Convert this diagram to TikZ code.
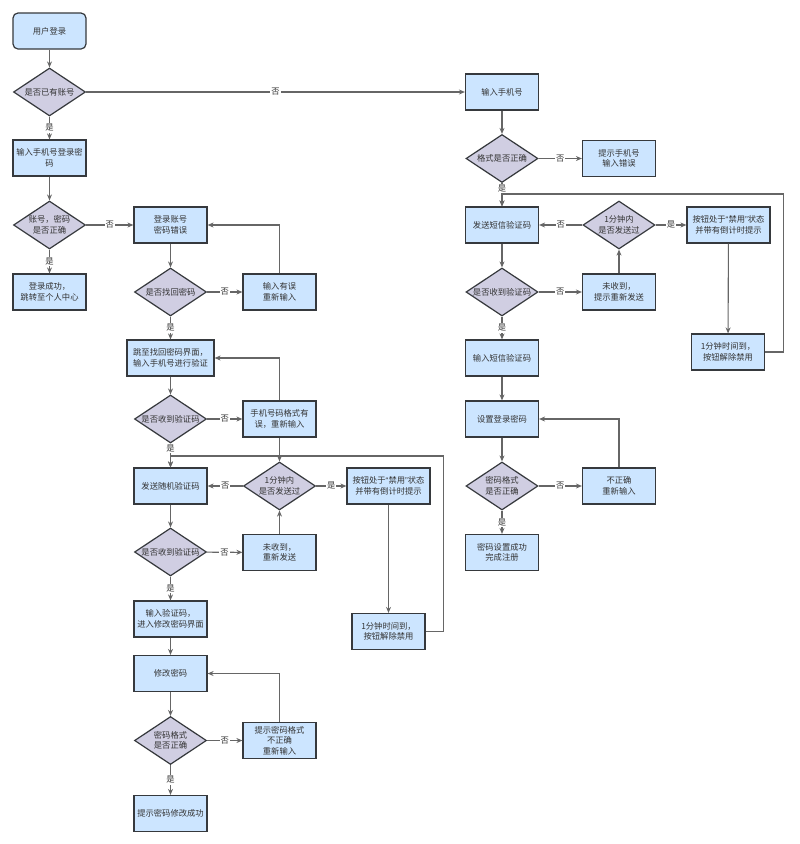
\documentclass[tikz,border=0pt]{standalone}
\usepackage{fontspec}
\setmainfont{Noto Sans CJK SC}
\newfontfamily\quotefont{Liberation Sans}
\usetikzlibrary{shapes.geometric, arrows.meta, positioning}

\definecolor{boxblue}{HTML}{CCE5FF}
\definecolor{decpurple}{HTML}{D0CEE2}
\definecolor{edgegray}{HTML}{36393D}
\definecolor{linegray}{HTML}{666666}
\definecolor{textgray}{HTML}{333333}

% narrow quotes round a word
\newcommand{\qword}[1]{{\quotefont “}#1{\quotefont ”}}

\begin{document}
\begin{tikzpicture}[
    x=1pt, y=-1pt,
    % Start style
    startbox/.style={
        rectangle,
        rounded corners=5pt,
        draw=edgegray,
        fill=boxblue,
        line width=1.2pt,
        minimum width=73pt,
        minimum height=36pt,
        text=textgray,
        font=\fontsize{8.3}{10.5}\selectfont,
        align=center
    },
    % Process style
    processbox/.style={
        rectangle,
        draw=edgegray,
        fill=boxblue,
        line width=1.2pt,
        minimum width=73pt,
        minimum height=36pt,
        inner sep=2pt,
        text=textgray,
        font=\fontsize{8.3}{10.5}\selectfont,
        align=center
    },
    % Decision style
    decisionbox/.style={
        diamond,
        aspect=1.5,
        draw=edgegray,
        fill=decpurple,
        line width=1.2pt,
        minimum width=72pt,
        minimum height=48pt,
        inner sep=0pt,
        text=textgray,
        font=\fontsize{8.3}{10.5}\selectfont,
        align=center
    },
    arrow/.style={
        -{Stealth[length=6pt,width=5pt]},
        line width=1.1pt,
        linegray
    },
    edgelabel/.style={
        fill=white,
        inner sep=1pt,
        text=textgray,
        font=\fontsize{8.3}{10}\selectfont
    }
]

\fill[white] (0,0) rectangle (800,844);

% === Login column ===
\node[startbox] (start) at (49.5, 31) {用户登录};
\node[decisionbox] (hasacc) at (49.5, 92) {是否已有账号};
\node[processbox] (loginin) at (49.5, 158) {输入手机号登录密\\码};
\node[decisionbox] (loginok) at (49.5, 225) {账号，密码\\是否正确};
\node[processbox] (loginsucc) at (49.5, 292) {登录成功，\\跳转至个人中心};

\draw[arrow] (start) -- (hasacc);
\draw[arrow] (hasacc) -- node[edgelabel] {是} (loginin);
\draw[arrow] (loginin) -- (loginok);
\draw[arrow] (loginok) -- node[edgelabel] {是} (loginsucc);

% === Find password column ===
\node[processbox] (loginerr) at (170.5, 225) {登录账号\\密码错误};
\node[decisionbox] (findpw) at (170.5, 292) {是否找回密码};
\node[processbox] (inputerr) at (279.5, 292) {输入有误\\重新输入};
\node[processbox, minimum width=87pt] (findpage) at (170.5, 358) {跳至找回密码界面，\\输入手机号进行验证};
\node[decisionbox] (rcv1) at (170.5, 419) {是否收到验证码};
\node[processbox] (phoneerr) at (279.5, 419) {手机号码格式有\\误，重新输入};
\node[processbox] (send1) at (170.5, 486) {发送随机验证码};
\node[decisionbox] (once1) at (279.5, 486) {1分钟内\\是否发送过};
\node[processbox, minimum width=83pt] (lock1) at (388.5, 486) {按钮处于\qword{禁用}状态\\并带有倒计时提示};
\node[processbox] (unlock1) at (388.5, 631.5) {1分钟时间到，\\按钮解除禁用};
\node[decisionbox] (rcv2) at (170.5, 552) {是否收到验证码};
\node[processbox] (resend1) at (279.5, 552.5) {未收到，\\重新发送};
\node[processbox] (inputcode) at (170.5, 619) {输入验证码，\\进入修改密码界面};
\node[processbox] (modpw) at (170.5, 673.5) {修改密码};
\node[decisionbox] (pwfmt1) at (170.5, 740.5) {密码格式\\是否正确};
\node[processbox] (pwfmterr) at (279.5, 740.5) {提示密码格式\\不正确\\重新输入};
\node[processbox] (modok) at (170.5, 813.5) {提示密码修改成功};

\coordinate (join1) at (170.5, 456);

\draw[arrow] (loginok) -- node[edgelabel] {否} (loginerr);
\draw[arrow] (loginerr) -- (findpw);
\draw[arrow] (findpw) -- node[edgelabel] {否} (inputerr);
\draw[arrow] (inputerr.north) |- (loginerr.east);
\draw[arrow] (findpw) -- node[edgelabel] {是} (findpage);
\draw[arrow] (findpage) -- (rcv1);
\draw[arrow] (rcv1) -- node[edgelabel] {否} (phoneerr);
\draw[arrow] (phoneerr.north) |- (findpage.east);
\draw[arrow] (phoneerr) -- (once1);
\draw[arrow] (rcv1) -- node[edgelabel, pos=0.22] {是} (send1);
\draw[arrow] (once1) -- node[edgelabel] {否} (send1);
\draw[arrow] (once1) -- node[edgelabel] {是} (lock1);
\draw[arrow] (lock1) -- (unlock1);
\draw[arrow] (unlock1.east) -- ++(18,0) |- (join1) -- (send1.north);
\draw[arrow] (send1) -- (rcv2);
\draw[arrow] (rcv2) -- node[edgelabel] {否} (resend1);
\draw[arrow] (resend1) -- (once1);
\draw[arrow] (rcv2) -- node[edgelabel] {是} (inputcode);
\draw[arrow] (inputcode) -- (modpw);
\draw[arrow] (modpw) -- (pwfmt1);
\draw[arrow] (pwfmt1) -- node[edgelabel] {否} (pwfmterr);
\draw[arrow] (pwfmterr.north) |- (modpw.east);
\draw[arrow] (pwfmt1) -- node[edgelabel] {是} (modok);

% === Register column ===
\node[processbox] (phone) at (502, 92) {输入手机号};
\node[decisionbox] (phonefmt) at (502, 158.5) {格式是否正确};
\node[processbox] (phonetip) at (619, 158.5) {提示手机号\\输入错误};
\node[processbox] (send2) at (502, 225) {发送短信验证码};
\node[decisionbox] (once2) at (619, 225) {1分钟内\\是否发送过};
\node[processbox, minimum width=83pt] (lock2) at (728.5, 225) {按钮处于\qword{禁用}状态\\并带有倒计时提示};
\node[processbox] (unlock2) at (728, 352) {1分钟时间到，\\按钮解除禁用};
\node[decisionbox] (rcv3) at (502, 292) {是否收到验证码};
\node[processbox] (resend2) at (619, 292) {未收到，\\提示重新发送};
\node[processbox] (inputsms) at (502, 358) {输入短信验证码};
\node[processbox] (setpw) at (502, 419) {设置登录密码};
\node[decisionbox] (pwfmt2) at (502, 486) {密码格式\\是否正确};
\node[processbox] (pwfmterr2) at (619, 486) {不正确\\重新输入};
\node[processbox] (regok) at (502, 552.5) {密码设置成功\\完成注册};

\coordinate (join2) at (502, 194);

\draw[arrow] (hasacc) -- node[edgelabel] {否} (phone);
\draw[arrow] (phone) -- (phonefmt);
\draw[arrow] (phonefmt) -- node[edgelabel] {否} (phonetip);
\draw[arrow] (phonefmt) -- node[edgelabel, pos=0.22] {是} (send2);
\draw[arrow] (once2) -- node[edgelabel] {否} (send2);
\draw[arrow] (once2) -- node[edgelabel] {是} (lock2);
\draw[arrow] (lock2) -- (unlock2);
\draw[arrow] (unlock2.east) -- ++(18,0) |- (join2) -- (send2.north);
\draw[arrow] (send2) -- (rcv3);
\draw[arrow] (rcv3) -- node[edgelabel] {否} (resend2);
\draw[arrow] (resend2) -- (once2);
\draw[arrow] (rcv3) -- node[edgelabel] {是} (inputsms);
\draw[arrow] (inputsms) -- (setpw);
\draw[arrow] (setpw) -- (pwfmt2);
\draw[arrow] (pwfmt2) -- node[edgelabel] {否} (pwfmterr2);
\draw[arrow] (pwfmterr2.north) |- (setpw.east);
\draw[arrow] (pwfmt2) -- node[edgelabel] {是} (regok);

\end{tikzpicture}
\end{document}
